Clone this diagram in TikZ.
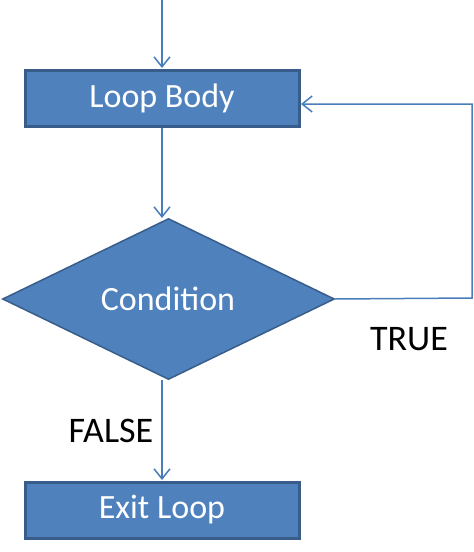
\documentclass[tikz,border=0pt]{standalone}
\usepackage{fontspec}
\setmainfont{Carlito}
\usetikzlibrary{arrows.meta,shapes.geometric}
\definecolor{boxfill}{HTML}{4F81BD}
\definecolor{boxline}{HTML}{385D8A}
\definecolor{conn}{HTML}{4A7EBB}
\begin{document}
\begin{tikzpicture}[x=1pt,y=-1pt,
  blockbox/.style={draw=boxline,line width=3pt,fill=boxfill,text=white,minimum width=274pt,minimum height=56pt,inner sep=0pt,font=\fontsize{34}{36}\selectfont},
  condbox/.style={diamond,draw=boxline,line width=1.5pt,fill=boxfill,text=white,minimum width=332pt,minimum height=161pt,inner sep=0pt,aspect=2.06,font=\fontsize{34}{36}\selectfont},
  link/.style={draw=conn,line width=1.5pt,-{Straight Barb[length=10pt,width=16pt,line width=1.5pt]}},
  lbl/.style={text=black,font=\fontsize{36}{38}\selectfont,inner sep=0pt}]
\useasboundingbox (0,0) rectangle (474,552);
\coordinate (start) at (162,0);
\node[blockbox] (body) at (162,98) {Loop Body};
\node[condbox] (cond) at (168.5,299) {};
\node[text=white,font=\fontsize{34}{36}\selectfont] (condtext) at (168,299) {Condition};
\node[blockbox] (exit) at (162,510) {Exit Loop};
\coordinate (c1) at (472,298);
\coordinate (c2) at (472,104);
\draw[link] (start) -- (162,68);
\draw[link] (162,128) -- (162,218);
\draw[link] (cond.east) -- (c1) -- (c2) -- (301,104);
\draw[link] (162,380) -- (162,480);
\node[lbl] (true) at (409,339) {TRUE};
\node[lbl] (false) at (111,431) {FALSE};
\end{tikzpicture}
\end{document}
